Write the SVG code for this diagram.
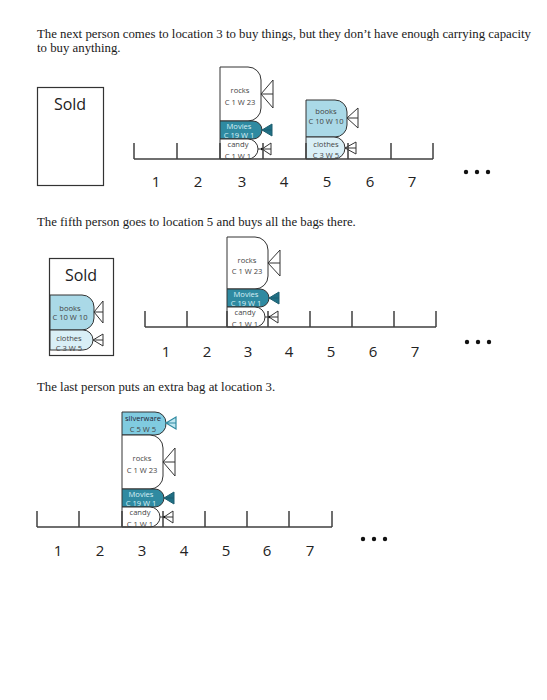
<svg xmlns="http://www.w3.org/2000/svg" width="547" height="700" viewBox="0 0 547 700">
<style>
.body{font-family:"Liberation Serif","Times New Roman",serif;font-size:12.8px;fill:#1a1a1a}
.num{font-family:"Open Sans","Liberation Sans",sans-serif;font-size:15px;fill:#222;text-anchor:middle}
.sold{font-family:"Open Sans","Liberation Sans",sans-serif;font-size:16px;fill:#222;text-anchor:middle}
.box{fill:#fff;stroke:#333;stroke-width:1.2}
.line{fill:none;stroke:#404040;stroke-width:1.5}
.bag{stroke:#333;stroke-width:1}
.w{fill:#fff}
.dk{fill:#2f8aa1}
.lb{fill:#aad9e7}
.xl{fill:#d9eff6}
.sv{fill:#80cbe0}
.tie{fill:#fff;stroke:#333;stroke-width:1}
.tiedk{fill:#1f6f84;stroke:#1f5f70;stroke-width:1}
.tiesv{fill:#bfe6f0;stroke:#2f8aa1;stroke-width:1.2}
.bt{font-family:"Open Sans","Liberation Sans",sans-serif;font-size:7.6px;fill:#444;text-anchor:middle}
.bw{font-family:"Open Sans","Liberation Sans",sans-serif;font-size:7.6px;fill:#d8f0f6;text-anchor:middle}
.dot{fill:#111}
</style>

<!-- Scene 1 -->
<text class="body" x="37" y="38" textLength="494" lengthAdjust="spacingAndGlyphs">The next person comes to location 3 to buy things, but they don’t have enough carrying capacity</text>
<text class="body" x="37" y="52">to buy anything.</text>

<g id="sold1">
<rect class="box" x="37.5" y="87.5" width="66" height="98"/>
<text class="sold" x="70" y="110">Sold</text>
</g>

<g id="stack1">
<g id="rocks1">
<path class="bag w" d="M220,67 H248 A13,13 0 0 1 261,80 V108 A13,13 0 0 1 248,121 H220 Z"/>
<path class="tie" d="M261,94 L273,80 V108 Z M261,94 H273"/>
<text class="bt" x="240" y="93">rocks</text>
<text class="bt" x="240" y="105">C 1 W 23</text>
</g>
<g id="movies1">
<path class="bag dk" d="M220,121 H253 A9,9 0 0 1 262,130 A9,9 0 0 1 253,139 H220 Z"/>
<path class="tiedk" d="M262,130 L272,124 V136 Z M262,130 H272"/>
<text class="bw" x="239" y="129">Movies</text>
<text class="bw" x="239" y="138">C 19 W 1</text>
</g>
<g id="candy1">
<path class="bag w" d="M220,139 H248 A10,10 0 0 1 258,149 A10,10 0 0 1 248,159 H220 Z"/>
<path class="tie" d="M262,149 L271,143 V155 Z M258,149 H271"/>
<circle cx="262" cy="149" r="1.2" fill="#111"/>
<text class="bt" x="238" y="147">candy</text>
<text class="bt" x="238" y="159">C 1 W 1</text>
</g>
</g>

<g id="stack5">
<g id="books1">
<path class="bag lb" d="M306,100 H335 A12,12 0 0 1 347,112 V125 A12,12 0 0 1 335,137 H306 Z"/>
<path class="tie" d="M347,118 L358,108 V128 Z M347,118 H358"/>
<text class="bt" x="326" y="114">books</text>
<text class="bt" x="326" y="124">C 10 W 10</text>
</g>
<g id="clothes1">
<path class="bag xl" d="M306,137 H334 A11,11 0 0 1 345,148 A11,11 0 0 1 334,159 H306 Z"/>
<path class="tie" d="M345,148 L356,142 V154 Z M345,148 H356"/>
<text class="bt" x="326" y="147">clothes</text>
<text class="bt" x="326" y="158">C 3 W 5</text>
</g>
</g>

<g id="connectors1">
<path class="line" d="M134,159 H433 M134,143 V159 M177,143 V159 M220,143 V159 M263,143 V159 M306,143 V159 M348,143 V159 M391,143 V159 M433,143 V159"/>
</g>
<g id="numbers1">
<text class="num" x="156" y="187">1</text>
<text class="num" x="198" y="187">2</text>
<text class="num" x="242" y="187">3</text>
<text class="num" x="284" y="187">4</text>
<text class="num" x="327" y="187">5</text>
<text class="num" x="370" y="187">6</text>
<text class="num" x="412" y="187">7</text>
<circle class="dot" cx="466" cy="172" r="2.2"/>
<circle class="dot" cx="477" cy="172" r="2.2"/>
<circle class="dot" cx="488" cy="172" r="2.2"/>
</g>

<!-- Scene 2 -->
<text class="body" x="37" y="226">The fifth person goes to location 5 and buys all the bags there.</text>

<g id="sold2">
<rect class="box" x="49.5" y="258.5" width="64" height="97"/>
<text class="sold" x="81" y="281">Sold</text>
<g id="books2">
<path class="bag lb" d="M50,295 H82 A12,12 0 0 1 94,307 V318 A12,12 0 0 1 82,330 H50 Z"/>
<path class="tie" d="M94,312 L103,301 V323 Z M94,312 H103"/>
<text class="bt" x="70" y="311">books</text>
<text class="bt" x="70" y="320">C 10 W 10</text>
</g>
<g id="clothes2">
<path class="bag xl" d="M50,330 H83 A10,10 0 0 1 93,340 A10,10 0 0 1 83,350 H50 Z"/>
<path class="tie" d="M93,340 L103,334 V346 Z M93,340 H103"/>
<text class="bt" x="69" y="341">clothes</text>
<text class="bt" x="69" y="351">C 3 W 5</text>
</g>
</g>

<g id="stack2" transform="translate(7,168)">
<g id="rocks2">
<path class="bag w" d="M220,69 H248 A13,13 0 0 1 261,82 V108 A13,13 0 0 1 248,121 H220 Z"/>
<path class="tie" d="M261,95 L273,82 V108 Z M261,95 H273"/>
<text class="bt" x="240" y="95">rocks</text>
<text class="bt" x="240" y="106">C 1 W 23</text>
</g>
<g id="movies2">
<path class="bag dk" d="M220,121 H253 A9,9 0 0 1 262,130 A9,9 0 0 1 253,139 H220 Z"/>
<path class="tiedk" d="M262,130 L272,124 V136 Z M262,130 H272"/>
<text class="bw" x="239" y="129">Movies</text>
<text class="bw" x="239" y="138">C 19 W 1</text>
</g>
<g id="candy2">
<path class="bag w" d="M220,139 H248 A10,10 0 0 1 258,149 A10,10 0 0 1 248,159 H220 Z"/>
<path class="tie" d="M262,149 L271,143 V155 Z M258,149 H271"/>
<circle cx="262" cy="149" r="1.2" fill="#111"/>
<text class="bt" x="238" y="147">candy</text>
<text class="bt" x="238" y="159">C 1 W 1</text>
</g>
</g>

<g id="connectors2">
<path class="line" d="M145,327 H436 M145,311 V327 M187,311 V327 M227,311 V327 M268,311 V327 M310,311 V327 M352,311 V327 M394,311 V327 M436,311 V327"/>
</g>
<g id="numbers2">
<text class="num" x="166" y="357">1</text>
<text class="num" x="207" y="357">2</text>
<text class="num" x="248" y="357">3</text>
<text class="num" x="289" y="357">4</text>
<text class="num" x="331" y="357">5</text>
<text class="num" x="373" y="357">6</text>
<text class="num" x="415" y="357">7</text>
<circle class="dot" cx="467" cy="342" r="2.2"/>
<circle class="dot" cx="478" cy="342" r="2.2"/>
<circle class="dot" cx="489" cy="342" r="2.2"/>
</g>

<!-- Scene 3 -->
<text class="body" x="37" y="391">The last person puts an extra bag at location 3.</text>

<g id="stack3" transform="translate(-98,368)">
<g id="silverware3">
<path class="bag sv" d="M220,44 H253 A11,11 0 0 1 264,55 A11,11 0 0 1 253,67 H220 Z"/>
<path class="tiesv" d="M264,55 L274,49 V61 Z M264,55 H274"/>
<text class="bt" x="241" y="53" style="fill:#223">silverware</text>
<text class="bt" x="241" y="64">C 5 W 5</text>
</g>
<g id="rocks3">
<path class="bag w" d="M220,67 H248 A13,13 0 0 1 261,80 V108 A13,13 0 0 1 248,121 H220 Z"/>
<path class="tie" d="M261,94 L273,80 V108 Z M261,94 H273"/>
<text class="bt" x="240" y="93">rocks</text>
<text class="bt" x="240" y="105">C 1 W 23</text>
</g>
<g id="movies3">
<path class="bag dk" d="M220,121 H253 A9,9 0 0 1 262,130 A9,9 0 0 1 253,139 H220 Z"/>
<path class="tiedk" d="M262,130 L272,124 V136 Z M262,130 H272"/>
<text class="bw" x="239" y="129">Movies</text>
<text class="bw" x="239" y="138">C 19 W 1</text>
</g>
<g id="candy3">
<path class="bag w" d="M220,139 H248 A10,10 0 0 1 258,149 A10,10 0 0 1 248,159 H220 Z"/>
<path class="tie" d="M262,149 L271,143 V155 Z M258,149 H271"/>
<circle cx="262" cy="149" r="1.2" fill="#111"/>
<text class="bt" x="238" y="147">candy</text>
<text class="bt" x="238" y="159">C 1 W 1</text>
</g>
</g>

<g id="connectors3">
<path class="line" d="M37,527 H332 M37,511 V527 M79,511 V527 M122,511 V527 M163,511 V527 M205,511 V527 M247,511 V527 M289,511 V527 M332,511 V527"/>
</g>
<g id="numbers3">
<text class="num" x="58" y="556">1</text>
<text class="num" x="100" y="556">2</text>
<text class="num" x="142" y="556">3</text>
<text class="num" x="184" y="556">4</text>
<text class="num" x="226" y="556">5</text>
<text class="num" x="267" y="556">6</text>
<text class="num" x="310" y="556">7</text>
<circle class="dot" cx="363" cy="539" r="2.2"/>
<circle class="dot" cx="374" cy="539" r="2.2"/>
<circle class="dot" cx="385" cy="539" r="2.2"/>
</g>
</svg>
